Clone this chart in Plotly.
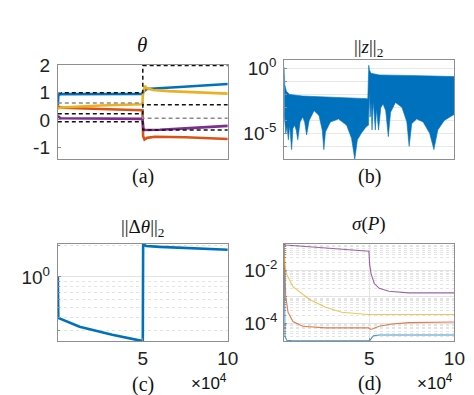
import plotly.graph_objects as go

BLUE = '#0072BD'; ORANGE = '#D95319'; YELLOW = '#EDB120'; PURPLE = '#7E2F8E'
AXC = '#8f8f8f'
TICKFONT = dict(family='Liberation Sans, Arial, sans-serif', size=19, color='#222222')
SERIF = 'Liberation Serif, DejaVu Serif, serif'

# ---------------- (a) theta ----------------
a_blue_x = [0, 300, 1500, 49800, 50000, 51150, 52300, 74100, 100000]
a_blue_y = [0.55, 0.9, 0.95, 0.96, 1.02, 1.10, 1.14, 1.22, 1.32]
a_yel_x = [0, 2000, 25000, 49800, 50000, 51150, 52300, 56000, 65000, 100000]
a_yel_y = [0.42, 0.46, 0.53, 0.58, 0.9, 1.25, 1.17, 1.10, 1.06, 0.97]
a_org_x = [0, 3000, 25000, 49800, 50200, 51000, 52500, 57000, 75000, 100000]
a_org_y = [0.49, 0.45, 0.40, 0.36, -0.60, -0.72, -0.66, -0.62, -0.64, -0.70]
a_pur_x = [0, 1500, 49800, 50300, 51000, 60000, 75000, 100000]
a_pur_y = [0.15, 0.06, 0.04, -0.30, -0.37, -0.36, -0.31, -0.22]
a_switch_x = [0, 50000, 50000, 100000]
a_true1 = [1.0, 1.0, 2.0, 2.0]
a_true2 = [0.62, 0.62, 0.06, 0.06]
a_true3 = [0.23, 0.23, 0.56, 0.56]
a_true4 = [-0.07, -0.07, -0.37, -0.37]
a_ticks = [-1, 0, 1, 2]
a_ticktext = ['-1', '0', '1', '2']

# ---------------- (b) ||z||_2 envelope ----------------
b_up_x = [0, 382, 1338, 3250, 10900, 30020, 49140, 49710, 50100, 51050, 56020, 78970, 100000]
b_up_y = [1.26, 0.056, 0.0178, 0.010, 0.0075, 0.0056, 0.0047, 1.78, 0.75, 0.42, 0.316, 0.28, 0.237]
b_lo_x = [0, 956, 1720, 2486, 3250, 4398, 5162, 6118, 7075, 8031, 9369, 10900, 12050, 13190,
          14720, 17590, 20460, 22370, 23330, 24280, 27150, 31930, 36710, 39580, 41490, 43020,
          45320, 48180, 49520, 50100, 50480, 51050, 51630, 52390, 53540, 54300, 55450, 56790,
          58130, 59660, 61190, 62520, 65390, 69220, 72080, 73420, 74950, 77820, 81640, 85470,
          87950, 90250, 94070, 98850, 100000]
b_lo_y = [3.2e-4, 1.0e-5, 3.2e-5, 3.2e-6, 4.2e-5, 5.6e-7, 2.4e-5, 4.2e-5, 1.8e-5, 3.2e-6,
          7.5e-5, 1.8e-4, 7.5e-5, 7.5e-6, 1.0e-4, 5.6e-4, 2.4e-4, 1.8e-5, 5.6e-7, 1.3e-5,
          7.5e-5, 1.3e-4, 4.2e-5, 4.2e-6, 1.0e-7, 3.2e-6, 1.0e-5, 3.2e-5, 4.2e-5, 1.78e-2,
          1.8e-4, 2.4e-3, 1.8e-5, 3.2e-3, 1.8e-5, 7.5e-4, 1.8e-5, 1.0e-3, 1.8e-3, 5.6e-4,
          5.6e-6, 4.2e-4, 2.4e-3, 1.0e-3, 7.5e-5, 1.0e-6, 5.6e-5, 1.3e-4, 7.5e-5, 1.0e-5,
          5.6e-7, 1.8e-5, 1.0e-4, 2.4e-4, 2.8e-4]
b_decades = [1e-7, 1e-6, 1e-5, 1e-4, 1e-3, 1e-2, 1e-1, 1e0]
b_ticktext = ['', '', '10<sup>-5</sup>', '', '', '', '', '10<sup>0</sup>']

# ---------------- (c) ||dtheta||_2 ----------------
c_x = [0, 300, 12800, 32000, 50000, 50200, 52000, 60000, 100000]
c_y = [1.0, 0.40, 0.328, 0.275, 0.238, 2.07, 2.0, 1.96, 1.84]
c_minor = [0.3, 0.4, 0.5, 0.6, 0.7, 0.8, 0.9, 2.0]

# ---------------- (d) sigma(P) ----------------
d_pur_x = [0, 1000, 49800, 50200, 51060, 52950, 55820, 61560, 73030, 100000]
d_pur_y = [0.1, 0.093, 0.054, 0.0174, 0.0076, 0.0032, 0.0021, 0.00162, 0.00141, 0.00141]
d_yel_x = [0, 340, 1300, 5160, 14700, 24300, 33850, 49100, 100000]
d_yel_y = [0.1, 0.0174, 0.0076, 0.00245, 8.1e-4, 4.0e-4, 2.6e-4, 2.14e-4, 2.14e-4]
d_org_x = [0, 300, 920, 2300, 5160, 10900, 24270, 49500, 51000, 55820, 63450, 73030, 100000]
d_org_y = [0.1, 0.01, 1.07e-3, 2.6e-4, 1.15e-4, 7.6e-5, 6.6e-5, 6.6e-5, 5.75e-5, 7.6e-5,
           9.3e-5, 1.05e-4, 1.1e-4]
d_blu_x = [0, 150, 500, 1500, 5000, 49600, 50500, 51500, 52500, 56000, 100000]
d_blu_y = [0.1, 3.2e-4, 3.2e-5, 2.24e-5, 2.14e-5, 2.14e-5, 2.25e-5, 2.8e-5, 3.3e-5, 3.55e-5, 3.55e-5]
d_decades = [1e-4, 1e-3, 1e-2]
d_ticktext = ['10<sup>-4</sup>', '', '10<sup>-2</sup>']
d_minor = [m * d for d in [1e-5, 1e-4, 1e-3, 1e-2] for m in range(2, 10)]

x_ticks = [50000, 100000]
x_ticktext = ['5', '10']

fig = go.Figure()

# (a)
for xs, ys, col in [(a_blue_x, a_blue_y, BLUE), (a_org_x, a_org_y, ORANGE),
                    (a_yel_x, a_yel_y, YELLOW), (a_pur_x, a_pur_y, PURPLE)]:
    fig.add_trace(go.Scatter(x=xs, y=ys, mode='lines', line=dict(color=col, width=2.6),
                             xaxis='x', yaxis='y', showlegend=False))
for ys, col in [(a_true1, '#111111'), (a_true2, '#8a8a8a'), (a_true3, '#111111'), (a_true4, '#111111')]:
    fig.add_trace(go.Scatter(x=a_switch_x, y=ys, mode='lines',
                             line=dict(color=col, width=1.5, dash='4px,3px'),
                             xaxis='x', yaxis='y', showlegend=False))

# (b)
fig.add_trace(go.Scatter(x=b_up_x + b_lo_x[::-1], y=b_up_y + b_lo_y[::-1], mode='lines',
                         fill='toself', fillcolor=BLUE, line=dict(color=BLUE, width=0.6),
                         xaxis='x2', yaxis='y2', showlegend=False))

# (c)
fig.add_trace(go.Scatter(x=c_x, y=c_y, mode='lines', line=dict(color=BLUE, width=2.6),
                         xaxis='x3', yaxis='y3', showlegend=False))

# (d)
for xs, ys, col in [(d_blu_x, d_blu_y, BLUE), (d_org_x, d_org_y, ORANGE),
                    (d_yel_x, d_yel_y, YELLOW), (d_pur_x, d_pur_y, PURPLE)]:
    fig.add_trace(go.Scatter(x=xs, y=ys, mode='lines', line=dict(color=col, width=1.1),
                             opacity=0.75, xaxis='x4', yaxis='y4', showlegend=False))

W, H = 474, 395
def px(v):
    return v / W
def py(v):
    return 1 - v / H

dom_left = [px(51), px(225)]
dom_right = [px(282.7), px(457)]

base_x = dict(showline=True, linecolor=AXC, linewidth=1, mirror=True, zeroline=False,
              range=[0, 100000], showgrid=False, tickfont=TICKFONT)
base_y = dict(showline=True, linecolor=AXC, linewidth=1, mirror=True, zeroline=False,
              tickfont=TICKFONT, ticks='inside', ticklen=3, tickcolor=AXC)

layout = dict(
    width=W, height=H, margin=dict(l=0, r=0, t=0, b=0),
    paper_bgcolor='white', plot_bgcolor='white',
    xaxis=dict(base_x, domain=dom_left, anchor='y', showticklabels=False, ticks=''),
    yaxis=dict(base_y, domain=[py(145), py(48)], anchor='x', range=[-1.45, 2.03],
               tickvals=a_ticks, ticktext=a_ticktext, showgrid=False, ticklabelstandoff=3),
    xaxis2=dict(base_x, domain=dom_right, anchor='y2', showticklabels=False, ticks=''),
    yaxis2=dict(base_y, domain=[py(145), py(43.5)], anchor='x2', type='log', range=[-7.0, 0.62],
                tickvals=b_decades, ticktext=b_ticktext, showgrid=True, gridcolor='#e8e8e8',
                ticklabelstandoff=3),
    xaxis3=dict(base_x, domain=dom_left, anchor='y3', tickvals=x_ticks, ticktext=x_ticktext,
                ticks='inside', ticklen=3, tickcolor=AXC, showgrid=True, gridcolor='#e8e8e8',
                ticklabelstandoff=0),
    yaxis3=dict(base_y, domain=[py(331.7), py(231.7)], anchor='x3', type='log',
                range=[-0.625, 0.322], tickvals=[1.0], ticktext=['10<sup>0</sup>'],
                showgrid=True, gridcolor='#e3e3e3', ticklabelstandoff=3,
                minor=dict(tickvals=c_minor, showgrid=True, gridcolor='#e3e3e3', griddash='dot',
                           ticks='inside', ticklen=2, tickcolor=AXC)),
    xaxis4=dict(base_x, domain=dom_right, anchor='y4', tickvals=x_ticks, ticktext=x_ticktext,
                ticks='inside', ticklen=3, tickcolor=AXC, showgrid=True, gridcolor='#e3e3e3',
                ticklabelstandoff=0),
    yaxis4=dict(base_y, domain=[py(331.7), py(231.5)], anchor='x4', type='log',
                range=[-4.69, -0.98], tickvals=d_decades, ticktext=d_ticktext,
                showgrid=True, gridcolor='#e3e3e3', ticklabelstandoff=2,
                minor=dict(tickvals=d_minor, showgrid=True, gridcolor='#e3e3e3', griddash='dot',
                           ticks='inside', ticklen=2, tickcolor=AXC)),
)

def ann(text, x, y, size=18, family=SERIF):
    return dict(text=text, x=px(x), y=py(y), xref='paper', yref='paper', showarrow=False,
                xanchor='center', yanchor='middle', font=dict(family=family, size=size, color='#111111'))

layout['annotations'] = [
    ann('<i>θ</i>', 137, 28, size=21),
    ann('||<i>z</i>||<sub>2</sub>', 369, 31, size=19),
    ann('||Δ<i>θ</i>||<sub>2</sub>', 138, 215, size=19),
    ann('<i>σ</i>(<i>P</i>)', 370, 211, size=19),
    ann('(a)', 138, 163, size=20),
    ann('(b)', 370, 163, size=20),
    ann('(c)', 138, 376, size=20),
    ann('(d)', 370, 375, size=20),
    ann('×10<sup>4</sup>', 206, 373, size=17, family='Liberation Sans, Arial, sans-serif'),
    ann('×10<sup>4</sup>', 437, 373, size=17, family='Liberation Sans, Arial, sans-serif'),
]

fig.update_layout(**layout)
fig.write_html('out.html')
